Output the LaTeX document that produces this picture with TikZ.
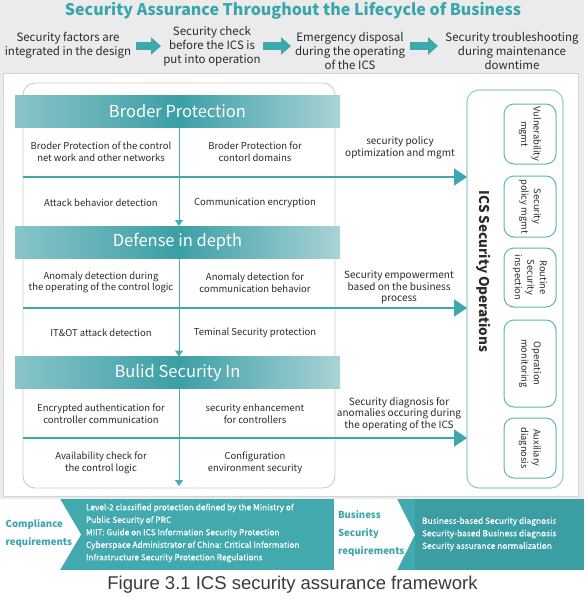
\documentclass[tikz,border=0pt]{standalone}
\usepackage{fontspec}
\setmainfont{Noto Sans CJK SC}
\newfontfamily\capfont{Liberation Sans}
\newfontfamily\semifont[FakeBold=0.5]{Noto Sans CJK SC}
\usetikzlibrary{arrows.meta}
\definecolor{bggrey}{HTML}{EBEBEB}
\definecolor{panelline}{HTML}{D5D5D5}
\definecolor{tealT}{HTML}{3AA5AB}
\definecolor{tealA}{HTML}{3DA8AD}
\definecolor{tealL}{HTML}{4AABB0}
\definecolor{bandL}{HTML}{8AC5C9}
\definecolor{bandM}{HTML}{3B9FA6}
\definecolor{bandR}{HTML}{AAD3D6}
\definecolor{boxgrey}{HTML}{CCCCCC}
\definecolor{opsouter}{HTML}{9CCFD2}
\definecolor{opsinner}{HTML}{5EB3B7}
\definecolor{txt}{HTML}{2B2B2B}
\definecolor{botL}{HTML}{42AAAF}
\definecolor{botR}{HTML}{3A9EA3}
\definecolor{capgrey}{HTML}{3A3A3A}
\begin{document}
\begin{tikzpicture}[x=1pt,y=-1pt,
  every node/.style={inner sep=0pt, outer sep=0pt},
  stagetext/.style={align=center, text=txt, font=\fontsize{11.5}{14}\selectfont},
  stagearrow/.style={draw=tealA, line width=8pt, -{Triangle[length=10pt,width=17pt]}},
  cell/.style={align=center, text=txt, font=\fontsize{9.5}{11.7}\selectfont},
  band/.style={minimum width=325, minimum height=32, left color=bandL, right color=bandR, middle color=bandM, text=white, font=\fontsize{16.5}{18}\selectfont},
  vline/.style={draw=tealL, line width=1pt, -{Triangle[length=6pt,width=8pt]}},
  harrow/.style={draw=tealA, line width=1.6pt, -{Triangle[length=13pt,width=17pt]}},
  lbl/.style={align=center, text=txt, font=\fontsize{10}{11.7}\selectfont},
  opbox/.style={draw=opsinner, line width=1pt, rounded corners=10pt, rotate=-90, minimum height=52, align=center, text=txt, font=\fontsize{9.3}{12.5}\selectfont},
  reqtitle/.style={align=left, text=tealT, font=\fontsize{9.6}{18}\bfseries\selectfont},
  reqlist/.style={align=left, text=white, font=\semifont\fontsize{8.3}{12.5}\selectfont}
]
\useasboundingbox (0,0) rectangle (584,602);
\fill[white] (0,0) rectangle (584,602);
\fill[bggrey] (0,0) rectangle (584,499);
\node[draw=panelline, fill=white, line width=0.8pt, minimum width=575, minimum height=423, anchor=north west] (panel) at (3,73) {};

% title and lifecycle
\node[font=\fontsize{16}{20}\bfseries\selectfont, text=tealT] (title) at (293,11) {Security Assurance Throughout the Lifecycle of Business};
\node[stagetext] (s1) at (68,45) {Security factors are\\integrated in the design};
\node[stagetext] (s2) at (212,46) {Security check\\before the ICS is\\put into operation};
\node[stagetext] (s3) at (350,51) {Emergency disposal\\during the operating\\of the ICS};
\node[stagetext] (s4) at (512,51) {Security troubleshooting\\during maintenance\\downtime};
\coordinate (a1s) at (136,46); \coordinate (a1e) at (161,46);
\coordinate (a2s) at (263,46); \coordinate (a2e) at (291,46);
\coordinate (a3s) at (410,46); \coordinate (a3e) at (438,46);
\draw[stagearrow] (a1s) -- (a1e);
\draw[stagearrow] (a2s) -- (a2e);
\draw[stagearrow] (a3s) -- (a3e);

% left framework box
\node[draw=boxgrey, line width=0.9pt, rounded corners=12pt, minimum width=312, minimum height=405, anchor=north west] (lbox) at (23,83) {};
% right operations box
\node[draw=opsouter, line width=1.2pt, rounded corners=12pt, minimum width=96, minimum height=398, anchor=north west] (ops) at (467,90) {};

\node[band] (b1) at (177.5,111) {Broder Protection};
\node[band] (b2) at (177.5,242) {Defense in depth};
\node[band] (b3) at (177.5,372.5) {Bulid Security In};

\coordinate (r1) at (0,177);
\coordinate (r2) at (0,308);
\coordinate (r3) at (0,438);
\coordinate (bot) at (0,486);

\draw[vline] (b1.south -| lbox.center) -- (b2.north -| lbox.center);
\draw[vline] (b2.south -| lbox.center) -- (b3.north -| lbox.center);
\draw[vline] (b3.south -| lbox.center) -- (bot -| lbox.center);

\draw[harrow] (lbox.west |- r1) -- (ops.west |- r1);
\draw[harrow] (lbox.west |- r2) -- (ops.west |- r2);
\draw[harrow] (lbox.west |- r3) -- (ops.west |- r3);

% cells
\node[cell] (c11) at (101,151.5) {Broder Protection of the control\\net work and other networks};
\node[cell] (c12) at (255,151.5) {Broder Protection for\\contorl domains};
\node[cell] (c13) at (101,203) {Attack behavior detection};
\node[cell] (c14) at (255,203) {Communication encryption};
\node[cell] (c21) at (101,282.5) {Anomaly detection during\\the operating of the control logic};
\node[cell] (c22) at (255,282.5) {Anomaly detection for\\communication behavior};
\node[cell] (c23) at (101,333) {IT\&OT attack detection};
\node[cell] (c24) at (255,333) {Teminal Security protection};
\node[cell] (c31) at (101,413.5) {Encrypted authentication for\\controller communication};
\node[cell] (c32) at (255,413.5) {security enhancement\\for controllers};
\node[cell] (c33) at (101,462.5) {Availability check for\\the control logic};
\node[cell] (c34) at (255,462.5) {Configuration\\environment security};

% arrow labels
\node[lbl] (l1) at (400,148) {security policy\\optimization and mgmt};
\node[lbl] (l2) at (399,287.5) {Security empowerment\\based on the business\\process};
\node[lbl] (l3) at (399,414) {Security diagnosis for\\anomalies occuring during\\the operating of the ICS};

% operations
\node[rotate=-90, text=txt, font=\fontsize{13.5}{16}\bfseries\selectfont] (ics) at (484,271.5) {ICS Security Operations};
\node[opbox, minimum width=60] (o1) at (530,134) {Vulnerability\\mgmt};
\node[opbox, minimum width=61] (o2) at (530,206.5) {Security\\policy mgmt};
\node[opbox, minimum width=59] (o3) at (530,277.5) {Routine\\Security\\inspection};
\node[opbox, minimum width=87] (o4) at (530,363.5) {Operation\\monitoring};
\node[opbox, minimum width=60] (o5) at (530,448) {Auxiliary\\diagnosis};

% bottom band
\fill[botL] (0,499) rectangle (584,570);
\fill[botR] (415,499) rectangle (584,570);
\fill[white] (0,499) -- (60,499) -- (81,534.5) -- (60,570) -- (0,570) -- cycle;
\fill[white] (334,499) -- (397,499) -- (415,534.5) -- (397,570) -- (334,570) -- cycle;
\node[reqtitle, anchor=west] (q1) at (5.6,533) {Compliance\\requirements};
\node[reqtitle, anchor=west] (q2) at (338,533.5) {Business\\Security\\requirements};
\node[reqlist, anchor=west] (q3) at (86,533) {Level-2 classified protection defined by the Ministry of\\Public Security of PRC\\MIIT: Guide on ICS Information Security Protection\\Cyberspace Administrator of China: Critical Information\\Infrastructure Security Protection Regulations};
\node[reqlist, anchor=west, font=\semifont\fontsize{8.4}{12.5}\selectfont] (q4) at (422,534) {Business-based Security diagnosis\\Security-based Business diagnosis\\Security assurance normalization};

\node[font=\capfont\fontsize{18.5}{20}\selectfont, text=capgrey] (cap) at (292.5,585) {Figure 3.1 ICS security assurance framework};
\end{tikzpicture}
\end{document}
